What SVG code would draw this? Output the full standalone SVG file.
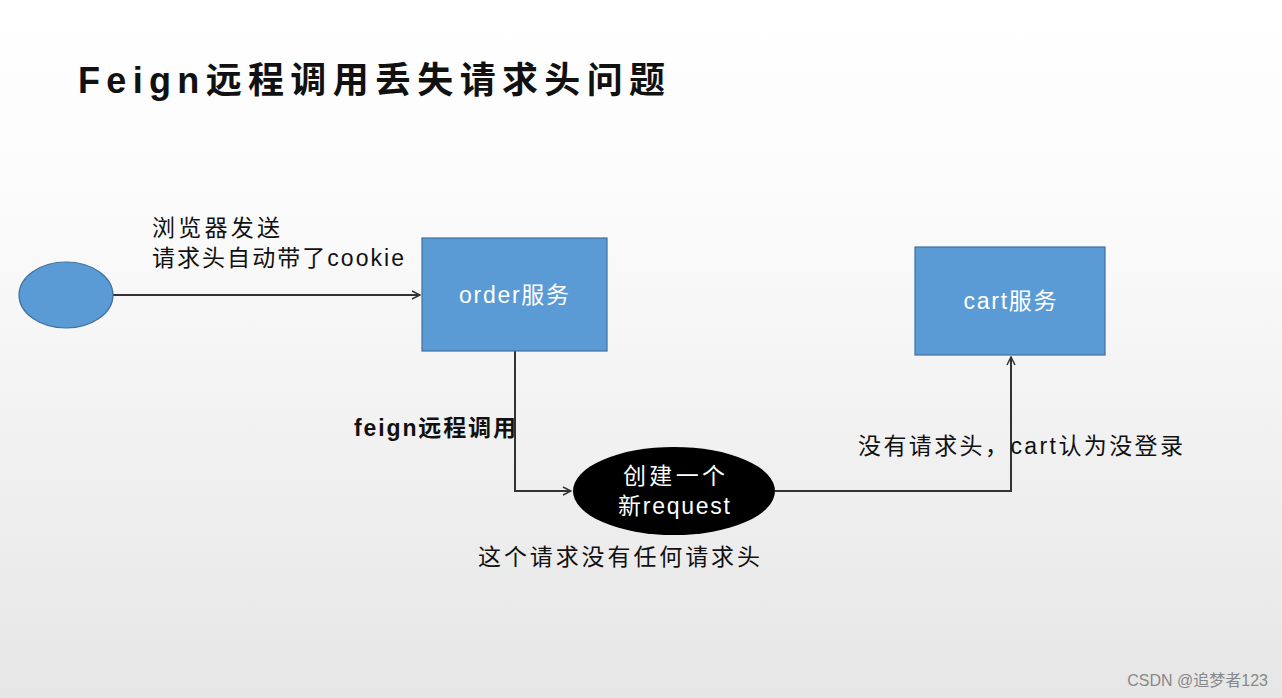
<svg xmlns="http://www.w3.org/2000/svg" width="1282" height="698" viewBox="0 0 1282 698">
<defs>
<linearGradient id="bg" x1="0" y1="0" x2="0" y2="1"><stop offset="0" stop-color="#ffffff"/><stop offset="0.3" stop-color="#fbfbfb"/><stop offset="1" stop-color="#e6e6e6"/></linearGradient>
<marker id="ar" markerWidth="10" markerHeight="10" refX="9" refY="5" orient="auto" markerUnits="userSpaceOnUse"><path d="M1,1 L9,5 L1,9" fill="none" stroke="#333" stroke-width="1.5"/></marker>
<style>
text{font-family:"Liberation Sans","Noto Sans CJK SC",sans-serif;}
.box{fill:#5b9bd5;stroke:#41719c;stroke-width:1.2}
.w{fill:#fff;font-size:23px}
.lbl{fill:#111;font-size:23px}
.ln{fill:none;stroke:#333;stroke-width:2}
</style>
</defs>
<rect width="1282" height="698" fill="url(#bg)"/>
<text x="78" y="93" font-size="36" font-weight="bold" fill="#111" textLength="587" lengthAdjust="spacing">Feign远程调用丢失请求头问题</text>
<g id="connectors">
<path class="ln" d="M113,295 H420" marker-end="url(#ar)"/>
<path class="ln" d="M515,351 V491 H571" marker-end="url(#ar)"/>
<path class="ln" d="M775,491 H1011 V357" marker-end="url(#ar)"/>
</g>
<g id="browser"><ellipse cx="66" cy="295" rx="47" ry="33" class="box"/></g>
<g id="order"><rect x="422" y="238" width="185" height="113" class="box"/><text x="514" y="303" text-anchor="middle" class="w" textLength="110" lengthAdjust="spacing">order服务</text></g>
<g id="cart"><rect x="915" y="247" width="190" height="108" class="box"/><text x="1010" y="309" text-anchor="middle" class="w" textLength="93" lengthAdjust="spacing">cart服务</text></g>
<g id="newreq"><ellipse cx="674" cy="491" rx="101" ry="44" fill="#000"/><text x="674" y="484" text-anchor="middle" class="w" textLength="102" lengthAdjust="spacing">创建一个</text><text x="674" y="514" text-anchor="middle" class="w" textLength="112" lengthAdjust="spacing">新request</text></g>
<text x="152" y="236" class="lbl" textLength="128" lengthAdjust="spacing">浏览器发送</text>
<text x="152" y="266" class="lbl" textLength="252" lengthAdjust="spacing">请求头自动带了cookie</text>
<text x="354" y="436" class="lbl" font-weight="bold" textLength="162" lengthAdjust="spacing">feign远程调用</text>
<text x="858" y="454" class="lbl" textLength="325" lengthAdjust="spacing">没有请求头，cart认为没登录</text>
<text x="478" y="565" class="lbl" textLength="282" lengthAdjust="spacing">这个请求没有任何请求头</text>
<text x="1268" y="686" text-anchor="end" font-size="16" fill="#888">CSDN @追梦者123</text>
</svg>
